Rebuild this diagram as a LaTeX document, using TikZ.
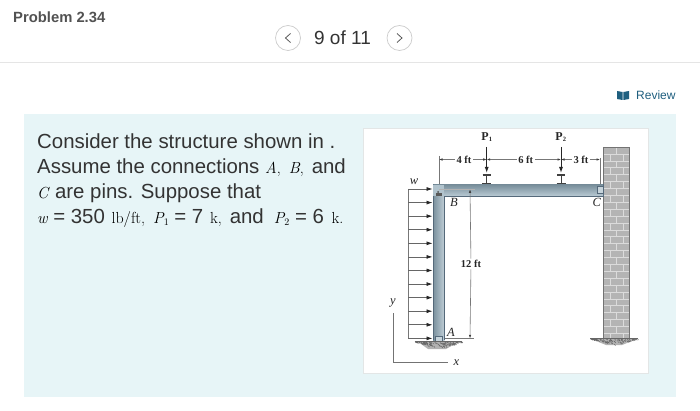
\documentclass[tikz,border=0pt]{standalone}
\usepackage{fontspec}
\setmainfont{Liberation Sans}
\newfontfamily\dgm{Liberation Serif}
\newfontfamily\lmr{Latin Modern Roman}
\usetikzlibrary{arrows.meta}
\definecolor{panel}{HTML}{E7F5F7}
\definecolor{ink}{HTML}{333333}
\definecolor{steel}{HTML}{8FA9B8}
\definecolor{steeld}{HTML}{55697A}
\definecolor{dimc}{HTML}{777777}
\definecolor{brick}{HTML}{B4B4B4}
\definecolor{teal}{HTML}{1F5F7F}
\tikzset{
  x=1pt,y=-1pt,
  para/.style={anchor=base west,inner sep=0pt,text=ink,font=\fontsize{20.4}{24}\selectfont},
  lab/.style={inner sep=0pt,text=black!85,font=\dgm\bfseries\fontsize{10.5}{12}\selectfont},
  ilab/.style={inner sep=0pt,text=black!85,font=\dgm\itshape\fontsize{12.5}{14}\selectfont},
  pl/.style={inner sep=0pt,text=black!85,font=\dgm\bfseries\fontsize{12}{14}\selectfont},
  dimline/.style={draw=dimc,line width=.6pt},
  loadarrow/.style={draw=black!60,line width=.7pt,-{Latex[length=6pt,width=4pt,black!85]}},
  navc/.style={circle,draw=black!20,line width=.7pt,fill=white,minimum size=25pt,inner sep=0pt},
  member/.style={draw=steeld,line width=.8pt},
  hatch/.style={draw=black!60,line width=.6pt},
  groundfill/.style={fill=black!30}
}
\newcommand{\mi}[1]{{\color{black}\lmr\itshape\fontsize{16}{16}\selectfont #1}}
\newcommand{\mr}[1]{{\color{black}\lmr\fontsize{16}{16}\selectfont #1}}
\newcommand{\sbs}[1]{\raisebox{-2.5pt}{\color{black}\lmr\fontsize{10}{10}\selectfont #1}}
\newcommand{\gravel}[6]{% x0, x1, y0, depth, count, seed
  \pgfmathsetseed{#6}
  \foreach \g in {1,...,#5}{
    \pgfmathsetmacro{\gx}{#1+rnd*(#2-#1)}
    \pgfmathsetmacro{\gc}{(#1+#2)/2}
    \pgfmathsetmacro{\gw}{(#2-#1)/2}
    \pgfmathsetmacro{\gd}{#4*(1-abs(\gx-\gc)/\gw)*rnd}
    \draw[black!60,line width=.5pt] (\gx,#3+\gd) -- ++(1.3,1.3);
  }
}
\begin{document}
\begin{tikzpicture}
\useasboundingbox (0,0) rectangle (700,411);
\fill[white] (0,0) rectangle (700,411);
% header
\node[anchor=base west,inner sep=0pt,text=black!68,font=\bfseries\fontsize{14.8}{16}\selectfont] (title) at (13,22.5) {Problem 2.34};
\node[navc] (prev) at (288,38) {};
\node[navc] (next) at (399.5,38) {};
\draw[black!65,line width=.8pt] (290.5,33.5) -- (285.5,38) -- (290.5,42.5);
\draw[black!65,line width=.8pt] (397,33.5) -- (402,38) -- (397,42.5);
\node[anchor=base,inner sep=0pt,text=ink,font=\fontsize{19}{24}\selectfont] (count) at (342.5,45) {9 of 11};
\draw[black!10,line width=1pt] (0,63) -- (700,63);
% review
\fill[teal] (617,91) -- (622.6,92) -- (622.6,100) -- (617,99) -- cycle;
\fill[teal] (629,91) -- (623.4,92) -- (623.4,100) -- (629,99) -- cycle;
\node[anchor=base west,inner sep=0pt,text=teal,font=\fontsize{12}{14}\selectfont] (review) at (636,99.5) {Review};
% panel
\fill[panel] (24,114) rectangle (676,397);
\node[para] (l1) at (37,148.5) {Consider the structure shown in .};
\node[para] (l2) at (37,173.5) {Assume the connections \mi{A}\mr{,}\hspace{8pt}\mi{B}\mr{,}\hspace{8pt}and};
\node[para] (l3) at (37,198.5) {\mi{C}\hspace{1pt} are pins. Suppose that};
\node[para] (l4) at (37,223.5) {\mi{w} = 350 \hspace{1pt}\mr{lb/ft,}\hspace{8pt}\mi{P}\sbs{1} = 7 \hspace{1pt}\mr{k,}\hspace{8pt}and\hspace{10pt}\mi{P}\sbs{2} = 6 \hspace{2pt}\mr{k.}};
% figure box
\fill[white] (363,128) rectangle (648,373);
\draw[panel!70!black!30,line width=.4pt] (363,128) rectangle (648,373);
% wall
\fill[brick] (603.5,147) rectangle (629,338);
\begin{scope}
\clip (603.5,147) rectangle (629,338);
\foreach \r in {0,...,28}{
  \pgfmathsetmacro{\yy}{147+6.9*\r}
  \draw[black!14,line width=.5pt] (603,\yy) -- (630,\yy);
  \pgfmathsetmacro{\off}{mod(\r,2)*6.5}
  \foreach \k in {0,1,2}{
    \pgfmathsetmacro{\xx}{603.5+\off+13*\k}
    \draw[black!14,line width=.5pt] (\xx,\yy) -- (\xx,\yy+6.9);
  }
}
\end{scope}
\draw[black!55,line width=.9pt] (603.5,338) -- (603.5,147) -- (629,147) -- (629,338);
% wall ground
\fill[groundfill] (590,338) -- (638,338) -- (632,341) -- (622,345) -- (606,345) -- (596,341) -- cycle;
\draw[hatch] (590,338) -- (638,338);
\gravel{590}{638}{338.5}{6}{90}{7}
% beam and column
\shade[left color=steel!85!black,right color=steel!55!white] (433,184.5) rectangle (444.7,340);
\draw[member] (433,340) -- (433,184.5) -- (603.5,184.5) -- (603.5,196) -- (444.7,196) -- (444.7,340);
\shade[top color=steel!85!black,bottom color=steel!65!white] (433.4,185) rectangle (603,195.6);
\fill[steel!70!white] (433.4,185) rectangle (444.3,195.6);
% pins
\draw[steeld,fill=steel!50!white,line width=.6pt] (435.5,336) rectangle (442,341);
\draw[steeld,fill=steel!50!white,line width=.6pt] (597.5,186.5) rectangle (603,193);
\fill[black!65] (436,193) rectangle (441.5,196.5);
\fill[black!70] (438.2,192) circle (1pt);
% ground at A
\fill[groundfill] (415,341) -- (462,341) -- (455,344) -- (446,349) -- (428,349) -- (421,344) -- cycle;
\draw[hatch] (415,341) -- (462,341);
\gravel{415}{462}{341.5}{7.5}{100}{11}
% distributed load
\draw[dimline] (408,189) -- (408,338.4);
\foreach \i in {0,...,11}{
  \pgfmathsetmacro{\yy}{189+13.58*\i}
  \draw[loadarrow] (408,\yy) -- (432.5,\yy);
}
\node[ilab] (w) at (414,181.5) {w};
% loads P1, P2
\foreach \px/\nm in {486.7/p,561/q}{
  \draw[black!75,line width=.8pt] (\px,175) -- (\px,184);
  \draw[black!75,line width=1.1pt] (\px-4,175) -- (\px+4,175);
  \draw[black!75,line width=1.2pt] (\px-4.5,183.5) -- (\px+4.5,183.5);
  \draw[black!85,line width=1pt,-{Latex[length=6pt,width=4pt]}] (\px,147) -- (\px,173);
}
\node[pl] (P1) at (487,137) {P\textsubscript{\fontsize{6.5}{7}\selectfont 1}};
\node[pl] (P2) at (561,137) {P\textsubscript{\fontsize{6.5}{7}\selectfont 2}};
% horizontal dims
\draw[dimline] (439,156) -- (439,184);
\draw[dimline] (600,158) -- (600,184);
\coordinate (d0) at (439,159.5);
\coordinate (d1) at (486.7,159.5);
\coordinate (d2) at (561,159.5);
\coordinate (d3) at (600,159.5);
\node[lab,fill=white,inner xsep=1.5pt] (d4ft) at (464,159.5) {4 ft};
\node[lab,fill=white,inner xsep=1.5pt] (d6ft) at (525.7,159.5) {6 ft};
\node[lab,fill=white,inner xsep=1.5pt] (d3ft) at (581,159.5) {3 ft};
\draw[dimline,{Latex[length=3.5pt,width=2.5pt,black!75]}-] (d0) -- (d4ft);
\draw[dimline,-{Latex[length=3.5pt,width=2.5pt,black!75]}] (d4ft) -- (d1);
\draw[dimline,{Latex[length=3.5pt,width=2.5pt,black!75]}-] (d1) -- (d6ft);
\draw[dimline,-{Latex[length=3.5pt,width=2.5pt,black!75]}] (d6ft) -- (d2);
\draw[dimline,{Latex[length=3.5pt,width=2.5pt,black!75]}-] (d2) -- (d3ft);
\draw[dimline,-{Latex[length=3.5pt,width=2.5pt,black!75]}] (d3ft) -- (d3);
% vertical dim
\draw[draw=black!30,line width=.5pt] (439,189.3) -- (475,189.3);
\node[lab,fill=white,inner ysep=1.5pt] (d12) at (471,264) {12 ft};
\coordinate (v0) at (470,189.3);
\coordinate (v1) at (470,338.3);
\draw[dimline,{Latex[length=3.5pt,width=2.5pt,black!75]}-] (v0) -- (d12);
\draw[dimline,-{Latex[length=3.5pt,width=2.5pt,black!75]}] (d12) -- (v1);
\draw[dimline] (444.7,338.3) -- (474,338.3);
% letters
\node[ilab] (A) at (451,332) {A};
\node[ilab] (B) at (454,202) {B};
\node[ilab] (C) at (596.7,202) {C};
% axes
\coordinate (yt) at (393,313);
\coordinate (or) at (393,362.7);
\coordinate (xt) at (448,362.7);
\draw[black!55,line width=.8pt] (yt) -- (or) -- (xt);
\node[ilab] (ylab) at (393,303) {y};
\node[ilab] (xlab) at (456.5,363) {x};
\end{tikzpicture}
\end{document}
